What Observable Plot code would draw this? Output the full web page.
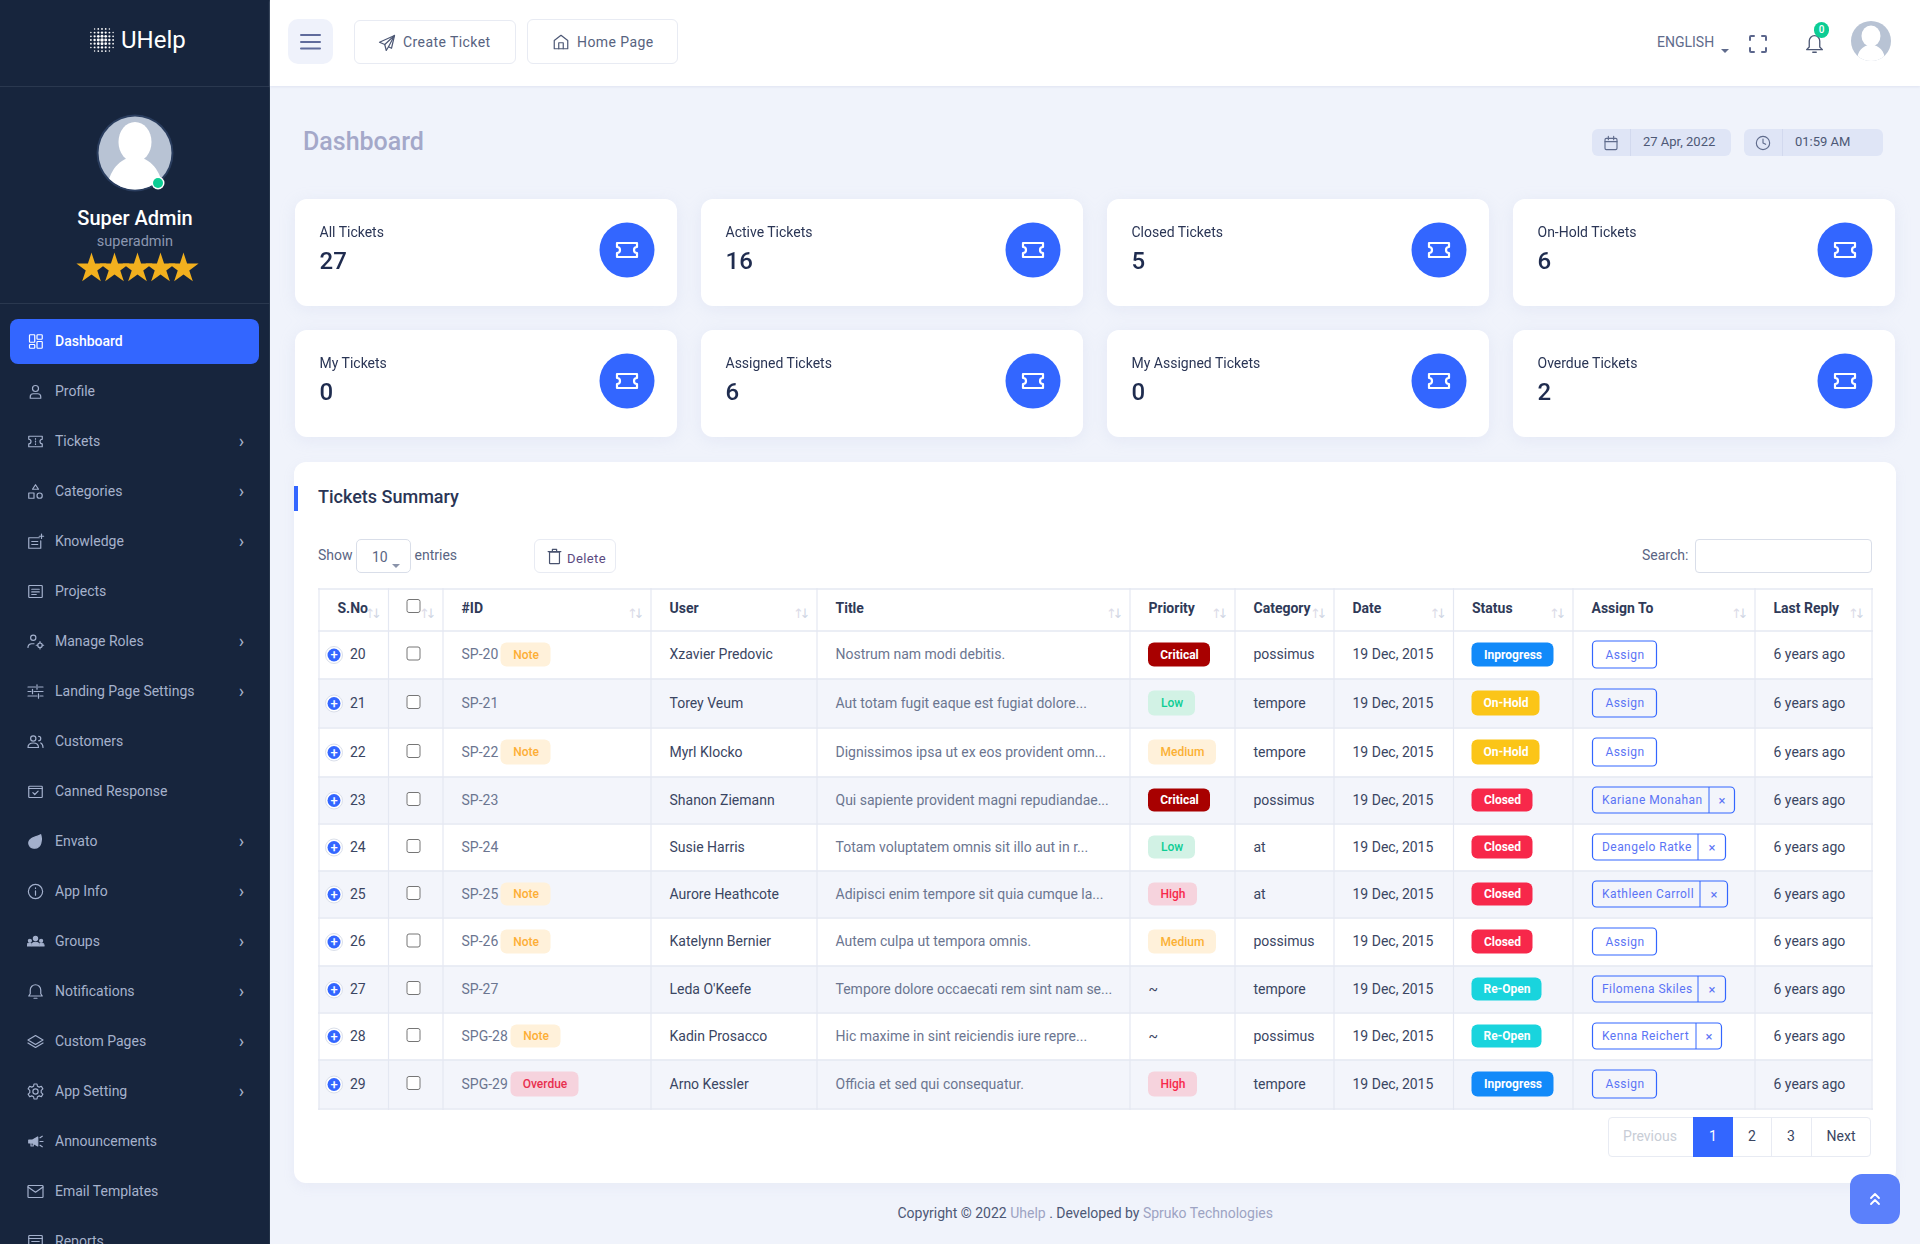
<!DOCTYPE html>
<html lang="en"><head><meta charset="utf-8"><title>UHelp Dashboard</title>
<script src="https://cdn.jsdelivr.net/npm/d3@7"></script>
<script src="https://cdn.jsdelivr.net/npm/@observablehq/plot@0.6"></script>
<style>
html,body{margin:0;padding:0;width:1920px;height:1244px;overflow:hidden;background:#f0f3fb;font-family:Roboto,sans-serif;color:#4d5875}
#page{position:relative;width:1920px;height:1244px;overflow:hidden}
.a{position:absolute;box-sizing:border-box;white-space:nowrap}
.plot{position:absolute}
.plot svg{display:block;overflow:visible}
.ls text{letter-spacing:.45px}
.shadow{filter:drop-shadow(0 3px 8px rgba(170,180,215,.16))}
</style></head><body><div id="page"></div>
<script>
/* ---------- DATA ---------- */
const menuItems=["Dashboard","Profile","Tickets","Categories","Knowledge","Projects","Manage Roles","Landing Page Settings","Customers","Canned Response","Envato","App Info","Groups","Notifications","Custom Pages","App Setting","Announcements","Email Templates","Reports"];
const menuWithChevron=["Tickets","Categories","Knowledge","Manage Roles","Landing Page Settings","Envato","App Info","Groups","Notifications","Custom Pages","App Setting"];
const statLabels=["All Tickets","Active Tickets","Closed Tickets","On-Hold Tickets","My Tickets","Assigned Tickets","My Assigned Tickets","Overdue Tickets"];
const statValues=[27,16,5,6,0,6,0,2];
const columns=["S.No","","#ID","User","Title","Priority","Category","Date","Status","Assign To","Last Reply"];
const serials=[20,21,22,23,24,25,26,27,28,29];
const ticketIds=["SP-20","SP-21","SP-22","SP-23","SP-24","SP-25","SP-26","SP-27","SPG-28","SPG-29"];
const flags=["Note","","Note","","","Note","Note","","Note","Overdue"];
const users=["Xzavier Predovic","Torey Veum","Myrl Klocko","Shanon Ziemann","Susie Harris","Aurore Heathcote","Katelynn Bernier","Leda O'Keefe","Kadin Prosacco","Arno Kessler"];
const titles=["Nostrum nam modi debitis.","Aut totam fugit eaque est fugiat dolore...","Dignissimos ipsa ut ex eos provident omn...","Qui sapiente provident magni repudiandae...","Totam voluptatem omnis sit illo aut in r...","Adipisci enim tempore sit quia cumque la...","Autem culpa ut tempora omnis.","Tempore dolore occaecati rem sint nam se...","Hic maxime in sint reiciendis iure repre...","Officia et sed qui consequatur."];
const priorities=["Critical","Low","Medium","Critical","Low","High","Medium","~","~","High"];
const categories=["possimus","tempore","tempore","possimus","at","at","possimus","tempore","possimus","tempore"];
const dates=Array(10).fill("19 Dec, 2015");
const statuses=["Inprogress","On-Hold","On-Hold","Closed","Closed","Closed","Closed","Re-Open","Re-Open","Inprogress"];
const assignees=["Assign","Assign","Assign","Kariane Monahan","Deangelo Ratke","Kathleen Carroll","Assign","Filomena Skiles","Kenna Reichert","Assign"];
const lastReplies=Array(10).fill("6 years ago");
const rating=[1,2,3,4,5];

/* ---------- STYLES ---------- */
const F="Roboto";
const priorityStyles=[{label:"Critical",bg:"#a80000",fg:"#fff",w:62,weight:700},{label:"Low",bg:"#d2f2e5",fg:"#0dcd94",w:47,weight:500},{label:"Medium",bg:"#fff1da",fg:"#fbb034",w:68,weight:500},{label:"High",bg:"#f6d3dd",fg:"#f7284a",w:49,weight:500}];
const statusStyles=[{label:"Inprogress",bg:"#128af9",w:82},{label:"On-Hold",bg:"#fbc518",w:68},{label:"Closed",bg:"#f7284a",w:61},{label:"Re-Open",bg:"#19d4dd",w:70}];
const flagStyles=[{label:"Note",bg:"#fff1da",fg:"#fdae35",w:50},{label:"Overdue",bg:"#f6d3dd",fg:"#e8304f",w:68}];
const assignStyles=[{label:"Assign",w:64},{label:"Kariane Monahan",w:142,div:116},{label:"Deangelo Ratke",w:133,div:105},{label:"Kathleen Carroll",w:135,div:107},{label:"Filomena Skiles",w:133,div:105},{label:"Kenna Reichert",w:129,div:103}];
const colEdges=[318,387.5,442,650,816,1129,1234,1333,1452.5,1572,1754,1871];
const rowEdges=[588,630,678,727,776,823,870,917,965,1012,1059,1108];

/* ---------- ICONS ---------- */
const I={
Dashboard:'<rect x="4" y="3" width="7" height="10" rx="1"/><rect x="14" y="3" width="7" height="6" rx="1"/><rect x="4" y="16" width="7" height="5" rx="1"/><rect x="14" y="12" width="7" height="9" rx="1"/>',
Profile:'<circle cx="12" cy="8" r="4"/><path d="M5 21v-2a4 4 0 0 1 4-4h6a4 4 0 0 1 4 4v2z"/>',
Tickets:'<path d="M3 5h18v4a3 3 0 0 0 0 6v4H3v-4a3 3 0 0 0 0-6z"/><path d="M12 8v1M12 11.5v1M12 15v1"/>',
Categories:'<path d="M12 3l4 6H8z"/><rect x="3" y="14" width="7" height="7"/><circle cx="17.5" cy="17.5" r="3.5"/>',
Knowledge:'<path d="M17 7H3v14h16V11"/><path d="M7 12h8M7 16h8M20 2v6M17 5h6"/>',
Projects:'<rect x="3" y="4" width="18" height="16" rx="1"/><path d="M7 9h10M7 12.5h10M7 16h6"/>',
"Manage Roles":'<circle cx="9" cy="7" r="3.5"/><path d="M2 20v-1a5 5 0 0 1 5-4h3"/><circle cx="18" cy="17" r="3"/><path d="M18 12v2M18 20v2M13 17h2M21 17h2"/>',
"Landing Page Settings":'<path d="M2 6h10M16 6h6M2 12h4M10 12h12M2 18h12M18 18h4M14 3v6M8 9v6M16 15v6"/>',
Customers:'<circle cx="9" cy="8" r="3.5"/><path d="M2 20c0-4 3-6 7-6s7 2 7 6z"/><path d="M16 5a3 3 0 0 1 0 6M19 14c2 1 3 3 3 6"/>',
"Canned Response":'<rect x="3" y="5" width="18" height="15" rx="1"/><path d="M3 8h18M8.500 13.500l2.500 2.500 4.500-4.500"/>',
Envato:'<path fill="#a3b0cc" d="M19 3c2 6 1 18-8 18-5 0-8-3-8-7 0-5 5-7 8-8 3-.7 6-1.500 8-3z"/>',
"App Info":'<circle cx="12" cy="12" r="9.500"/><path d="M12 11v6M12 7v1"/>',
Groups:'<g fill="#a3b0cc"><circle cx="12" cy="8" r="2.800"/><path d="M7 18c0-3 2-5 5-5s5 2 5 5z"/><circle cx="4.500" cy="11" r="2"/><path d="M0 18c0-2 2-4 4.500-4S6 16 6 18z"/><circle cx="19.500" cy="11" r="2"/><path d="M24 18c0-2-2-4-4.500-4S18 16 18 18z"/></g>',
Notifications:'<path d="M12 3a7 7 0 0 0-7 7v5l-2 3h18l-2-3v-5a7 7 0 0 0-7-7z"/><path d="M10 21h4"/>',
"Custom Pages":'<path d="M12 4l10 6-10 6-10-6z"/><path d="M2 14l10 6 10-6"/>',
"App Setting":'<circle cx="12" cy="12" r="3.500"/><path d="M10 2h4l.6 3 2.400 1.200 2.800-1.200 2 3.500-2.200 2v3l2.200 2-2 3.500-2.800-1.200-2.400 1.200-.6 3h-4l-.6-3-2.400-1.200-2.800 1.200-2-3.500 2.200-2v-3l-2.200-2 2-3.500 2.800 1.200 2.400-1.200z"/>',
Announcements:'<path d="M3 10h5l7-4v12l-7-4H3z" fill="#a3b0cc"/><path d="M6 14v4h3v-3M18 12h4M18 7l3-2M18 17l3 2"/>',
"Email Templates":'<rect x="2" y="4" width="20" height="16" rx="1"/><path d="M2 6l10 7 10-7"/>',
Reports:'<rect x="3" y="4" width="18" height="17" rx="1"/><path d="M3 8h18M7 12h10M7 16h10"/>'
};
const ticketPath='<path d="M2 5h20v4a3 3 0 0 0 0 6v4H2v-4a3 3 0 0 0 0-6z"/>';
const svgStr=(inner,color,sw=1.6)=>`<svg xmlns="http://www.w3.org/2000/svg" viewBox="0 0 24 24" fill="none" stroke="${color}" stroke-width="${sw}" stroke-linecap="round" stroke-linejoin="round">${inner}</svg>`;
const uri=(inner,color,sw)=>"data:image/svg+xml,"+encodeURIComponent(svgStr(inner,color,sw));

/* ---------- HELPERS ---------- */
const page=document.getElementById("page");
function box(l,t,w,h,css="",html=""){const d=document.createElement("div");d.className="a";d.style.cssText=`left:${l}px;top:${t}px;${w!=null?`width:${w}px;`:""}${h!=null?`height:${h}px;`:""}${css}`;d.innerHTML=html;page.appendChild(d);return d}
function label(l,cy,txt,css=""){return box(l,cy-12,null,24,`line-height:24px;${css}`,txt)}
function mount(plot,l,t,cls=""){const d=document.createElement("div");d.className="plot "+cls;d.style.left=l+"px";d.style.top=t+"px";d.appendChild(plot);page.appendChild(d)}
function icon(l,t,s,inner,color,sw){box(l,t,s,s,"",svgStr(inner,color,sw))}
const base={margin:0,style:{background:"transparent",fontFamily:F,overflow:"visible"}};

/* ---------- PAGE CHROME ---------- */
box(0,0,270,1244,"background:#17253d;border-right:1px solid #253449");
box(0,86,270,1,"background:#2a384f");
box(0,303,270,1,"background:#2a384f");
box(270,0,1650,86,"background:#fff;box-shadow:0 1px 2px rgba(200,208,230,.4)");
/* logo */
{let s="";for(let i=-3;i<=3;i++)for(let j=-3;j<=3;j++){const d=Math.hypot(i,j);if(d>3.7)continue;s+=`<circle cx="${14+i*3.7}" cy="${14+j*3.7}" r="${1.75-d*.28}" fill="#fff"/>`}
box(88,26,28,28,"",`<svg width="28" height="28" viewBox="0 0 28 28">${s}</svg>`)}
label(121,40,"UHelp","color:#fff;font-size:24px");
/* avatar */
box(95,113,80,80,"",`<svg width="80" height="80" viewBox="0 0 80 80"><defs><clipPath id="c1"><circle cx="40" cy="40" r="36.500"/></clipPath></defs><circle cx="40" cy="40" r="38.500" fill="#2a3d5e"/><circle cx="40" cy="40" r="36.500" fill="#b8c3d4"/><g clip-path="url(#c1)" fill="#fff"><ellipse cx="40" cy="29" rx="16.500" ry="20"/><path d="M12 80c0-20 12-36 28-36s28 16 28 36z"/></g><circle cx="63" cy="70" r="6.500" fill="#fff"/><circle cx="63" cy="70" r="5" fill="#0dcd94"/></svg>`);
box(0,206,270,24,"text-align:center;color:#fff;font-size:20px;font-weight:500;line-height:24px;","Super Admin");
box(0,230,270,24,"text-align:center;color:#8c97b0;font-size:14.500px;line-height:24px;","superadmin");
box(10,319,249,45,"background:#3366ff;border-radius:8px");
/* header */
box(288,19,45,45,"background:#eff2fb;border-radius:10px",`<svg width="45" height="45"><path d="M13 16h19M13 23h19M13 29.500h19" stroke="#5f6b9c" stroke-width="2" stroke-linecap="round"/></svg>`);
const btn="background:#fff;border:1px solid #e8ebf3;border-radius:6px";
box(354,20,162,44,btn);box(527,19,151,45,btn);
const hdrT="color:#576380;font-size:14px;letter-spacing:.42px";
label(403,42,"Create Ticket",hdrT);label(577,42,"Home Page",hdrT);
icon(378,34,18,'<path d="M22 2L2 11l7 3 2 8 3-5 4 2z"/><path d="M22 2L9 14M22 2l-8 15"/>',"#4d5875");
icon(552,33,18,'<path d="M3 10l9-7 9 7v11H3z"/><path d="M9 21v-8h6v8"/>',"#4d5875");
label(1657,42,"ENGLISH","color:#5f6b8c;font-size:14px");
box(1721,39,8,6,"",`<svg width="8" height="6"><path d="M0 1h8L4 5z" fill="#5f6b8c"/></svg>`);
box(1749,35,18,18,"",`<svg width="18" height="18" fill="none" stroke="#5b668c" stroke-width="2" stroke-linecap="round"><path d="M1 5V2a1 1 0 0 1 1-1h3M13 1h3a1 1 0 0 1 1 1v3M17 13v3a1 1 0 0 1-1 1h-3M5 17H2a1 1 0 0 1-1-1v-3"/></svg>`);
icon(1804,33,21,'<path d="M12 3a6 6 0 0 0-6 6v7l-3 3h18l-3-3V9a6 6 0 0 0-6-6z"/><path d="M10 22h4"/>',"#4d5875",1.5);
box(1814,22,15,16,"background:#0dcd94;border-radius:8px;color:#fff;font-size:10px;font-weight:500;text-align:center;line-height:16px","0");
box(1851,21,40,40,"",`<svg width="40" height="40"><defs><clipPath id="c2"><circle cx="20" cy="20" r="20"/></clipPath></defs><circle cx="20" cy="20" r="20" fill="#b8c3d4"/><g clip-path="url(#c2)" fill="#fff"><ellipse cx="20" cy="15" rx="9.500" ry="10.500"/><path d="M6 40c0-10 6-16 14-16s14 6 14 16z"/></g></svg>`);
/* page title */
label(303,142,"Dashboard","color:#a4a8c9;font-size:25px;font-weight:500;height:30px;line-height:24px");
const chip="background:#dfe5f6;border-radius:6px";
box(1592,129,139,27,chip);box(1744,129,139,27,chip);
box(1630,129,1,27,"background:#d2d9ee");box(1782,129,1,27,"background:#d2d9ee");
label(1643,142,"27 Apr, 2022","color:#4d5875;font-size:13px");label(1795,142,"01:59 AM","color:#4d5875;font-size:13px");
icon(1603,135,16,'<rect x="3" y="5" width="18" height="17" rx="2"/><path d="M3 10h18M8 2v5M16 2v5"/>',"#5f6b8c",1.700);
icon(1755,135,16,'<circle cx="12" cy="12" r="10"/><path d="M12 6v6l4 2"/>',"#5f6b8c",1.700);
/* table card */
box(294,462,1602,721,"background:#fff;border-radius:12px;box-shadow:0 4px 12px rgba(170,180,215,.12)");
box(294,486,4,25,"background:#3366ff");
label(318,497,"Tickets Summary","color:#2a3555;font-size:18px;font-weight:500");
label(318,555,"Show","color:#5a6583;font-size:14px");
box(356,539,55,34,"background:#fff;border:1px solid #d9dee9;border-radius:5px");
label(372,557,"10","color:#5a6583;font-size:14px");
box(392,554,8,6,"",`<svg width="8" height="6"><path d="M0 1h8L4 5z" fill="#8a93aa"/></svg>`);
label(414.500,555,"entries","color:#5a6583;font-size:14px");
box(534,539,82,34,"background:#fff;border:1px solid #e8ebf3;border-radius:6px");
icon(546,548,17,'<path d="M5 6h14v15a1 1 0 0 1-1 1H6a1 1 0 0 1-1-1zM3 5h18M9 5V2h6v3"/>',"#49536f",1.700);
label(567,559,"Delete","color:#5b4a7f;font-size:13px;letter-spacing:.4px");
label(1642,555,"Search:","color:#5a6583;font-size:14px");
box(1695,539,177,34,"background:#fff;border:1px solid #d9dee9;border-radius:4px");
/* pagination */
box(1608,1117,263,40,"background:#fff;border:1px solid #e8ebf3;border-radius:4px");
box(1693,1117,40,40,"background:#3366ff");
box(1771,1117,1,40,"background:#e8ebf3");box(1811,1117,1,40,"background:#e8ebf3");
const pg=(c,t,col)=>box(c-30,1124,60,24,`text-align:center;line-height:24px;font-size:14px;color:${col}`,t);
pg(1650,"Previous","#c8cdd6");pg(1713,"1","#fff");pg(1752,"2","#3a4562");pg(1791,"3","#3a4562");pg(1841,"Next","#3a4562");
/* footer */
label(897.500,1213,'Copyright © 2022 <span style="color:#9da3c3">Uhelp</span> . Developed by <span style="color:#9da3c3">Spruko Technologies</span>',"color:#4d5875;font-size:14px");
box(1850,1174,50,50,"background:#5b80fb;border-radius:12px",`<svg width="50" height="50" fill="none" stroke="#fff" stroke-width="1.800" stroke-linecap="round" stroke-linejoin="round"><path d="M21 24l4-4 4 4M21 30l4-4 4 4"/></svg>`);

/* ---------- SIDEBAR: stars + menu ---------- */
mount(Plot.plot({...base,width:110,height:24,x:{type:"point",domain:rating,range:[8,102],padding:0,axis:null},y:{axis:null},marks:[
  Plot.dot(rating,{x:d=>d,frameAnchor:"middle",symbol:"star",r:9.5,fill:"#f2b01e"})
]}),82,256);

const menuY={type:"point",domain:menuItems,range:[341,1241],padding:0,axis:null};
mount(Plot.plot({...base,width:270,height:1244,y:menuY,marks:[
  Plot.image(menuItems,{y:d=>d,frameAnchor:"left",dx:35,width:18,height:18,src:d=>uri(I[d],d==="Dashboard"?"#fff":"#a3b0cc")}),
  Plot.text(menuItems,{y:d=>d,frameAnchor:"left",dx:d=>0,textAnchor:"start",text:d=>d,fontSize:14,fontFamily:F,fill:"#a6b2cc",filter:d=>d!=="Dashboard",dx:54.5}),
  Plot.text(["Dashboard"],{y:d=>d,frameAnchor:"left",textAnchor:"start",text:d=>d,fontSize:14,fontWeight:500,fontFamily:F,fill:"#fff",dx:54.5}),
  Plot.text(menuWithChevron,{y:d=>d,frameAnchor:"left",textAnchor:"middle",text:()=>"›",fontSize:18,fontFamily:F,fill:"#a6b2cc",dx:241})
]}),0,0);

/* ---------- STAT CARDS ---------- */
const cards=statLabels.map((l,i)=>({label:l,value:statValues[i],col:i%4,row:Math.floor(i/4)}));
const ticketWhite=uri(ticketPath,"#fff",2.2);
mount(Plot.plot({...base,width:1602,height:239,
  x:{type:"band",domain:[0,1,2,3],paddingInner:24/406,paddingOuter:0,axis:null},
  y:{type:"band",domain:[0,1],paddingInner:24/132,paddingOuter:0,axis:null},
  marks:[
    Plot.cell(cards,{x:"col",y:"row",fill:"#fff",rx:12}),
    Plot.text(cards,{x:"col",y:"row",text:"label",textAnchor:"start",dx:-167,dy:-20,fontSize:14,fontFamily:F,fill:"#2a3555"}),
    Plot.text(cards,{x:"col",y:"row",text:d=>String(d.value),textAnchor:"start",dx:-167,dy:8,fontSize:24,fontWeight:500,fontFamily:F,fill:"#1f2c4f"}),
    Plot.dot(cards,{x:"col",y:"row",r:27.5,fill:"#3366ff",dx:140.5,dy:-3}),
    Plot.image(cards,{x:"col",y:"row",src:ticketWhite,width:24,height:24,dx:140.5,dy:-3})
  ]}),294,199,"shadow");

/* ---------- TABLE ---------- */
const rows=serials.map((s,i)=>({row:i+1,sno:String(s),id:ticketIds[i],flag:flags[i],user:users[i],title:titles[i],priority:priorities[i],category:categories[i],date:dates[i],status:statuses[i],assign:assignees[i],reply:lastReplies[i]}));
const colIdx=d3.range(colEdges.length), rowIdx=d3.range(rowEdges.length);
const colW=i=>colEdges[i+1]-colEdges[i];
const PAD=18.5, CLine="#e4e8f2";
const C={sno:0,check:1,id:2,user:3,title:4,priority:5,category:6,date:7,status:8,assign:9,reply:10};
const cellText=(key,col,fill,opts={})=>Plot.text(rows,{x:()=>col,y:d=>d.row+.5,text:key,dx:PAD,textAnchor:"start",fontSize:14,fontFamily:F,fill,...opts});
const pill=(data,col,left,w,inset,bg,opts={})=>Plot.rect(data,{x1:()=>col,x2:()=>col+1,y1:d=>d.row,y2:d=>d.row+1,insetLeft:left,insetRight:colW(col)-left-w,insetTop:inset,insetBottom:inset,fill:bg,rx:6,...opts});
const pillText=(data,col,left,w,txt,fg,weight,extra={})=>Plot.text(data,{x:()=>col,y:d=>d.row+.5,text:()=>txt,dx:left+w/2,textAnchor:"middle",fontSize:12,fontWeight:weight,fontFamily:F,fill:fg,...extra});

const tableMarks=[
  Plot.rect(rows.filter(r=>r.row%2===0),{x1:()=>0,x2:()=>11,y1:d=>d.row,y2:d=>d.row+1,fill:"#f3f5fb"}),
  Plot.ruleY(rowIdx,{y:d=>d,stroke:CLine,strokeWidth:1.3}),
  Plot.ruleX(colIdx,{x:d=>d,stroke:CLine,strokeWidth:1.2}),
  /* header */
  Plot.text(columns.map((c,i)=>({c,i})).filter(d=>d.c),{x:d=>d.i,y:()=>.5,text:"c",dx:PAD,textAnchor:"start",fontSize:14,fontWeight:700,fontFamily:F,fill:"#2f3a58",dy:-1}),
  Plot.text(colIdx.slice(0,-1),{x:d=>d+1,y:()=>.5,text:()=>"↑",dx:-18.5,dy:4,fontSize:13,fontFamily:"DejaVu Sans",fill:"#dcdce8"}),
  Plot.text(colIdx.slice(0,-1),{x:d=>d+1,y:()=>.5,text:()=>"↓",dx:-12,dy:4,fontSize:13,fontFamily:"DejaVu Sans",fill:"#d0d6e4"}),
  Plot.image([0],{x:()=>1,y:()=>.5,dx:25,dy:-4,width:15,height:15,src:"data:image/svg+xml,"+encodeURIComponent('<svg xmlns="http://www.w3.org/2000/svg" viewBox="0 0 15 15"><rect x="1" y="1" width="13" height="13" rx="2" fill="#fff" stroke="#767676"/></svg>')}),
  /* serial */
  Plot.dot(rows,{x:()=>0,y:d=>d.row+.5,dx:15,r:8.5,fill:"#fff",stroke:"#dadfea",strokeWidth:1}),
  Plot.dot(rows,{x:()=>0,y:d=>d.row+.5,dx:15,r:6.5,fill:"#3366ff"}),
  Plot.text(rows,{x:()=>0,y:d=>d.row+.5,dx:15,text:()=>"+",fontSize:13,fontWeight:500,fontFamily:F,fill:"#fff"}),
  cellText("sno",C.sno,"#3a4562",{dx:31}),
  /* checkbox */
  Plot.image(rows,{x:()=>C.check,y:d=>d.row+.5,dx:25,dy:-1.5,width:15,height:15,src:"data:image/svg+xml,"+encodeURIComponent('<svg xmlns="http://www.w3.org/2000/svg" viewBox="0 0 15 15"><rect x="1" y="1" width="13" height="13" rx="2" fill="#fff" stroke="#767676"/></svg>')}),
  /* plain cells */
  cellText("id",C.id,"#6b7590"),
  cellText("user",C.user,"#3a4562"),
  cellText("title",C.title,"#6b7590"),
  cellText("category",C.category,"#3a4562"),
  cellText("date",C.date,"#3a4562"),
  cellText("reply",C.reply,"#3a4562"),
  Plot.text(rows.filter(r=>r.priority==="~"),{x:()=>C.priority,y:d=>d.row+.5,text:"priority",dx:PAD,textAnchor:"start",fontSize:14,fontFamily:F,fill:"#3a4562"})
];
/* flags next to ids */
for(const s of flagStyles){for(const longId of [false,true]){
  const data=rows.filter(r=>r.flag===s.label&&(r.id.startsWith("SPG")===longId));
  const left=longId?68:58;
  if(!data.length)continue;
  tableMarks.push(pill(data,C.id,left,s.w,12,s.bg),pillText(data,C.id,left,s.w,s.label,s.fg,500));
}}
for(const s of priorityStyles){const data=rows.filter(r=>r.priority===s.label);
  tableMarks.push(pill(data,C.priority,PAD,s.w,12,s.bg),pillText(data,C.priority,PAD,s.w,s.label,s.fg,s.weight));}
for(const s of statusStyles){const data=rows.filter(r=>r.status===s.label);
  tableMarks.push(pill(data,C.status,PAD,s.w,12,s.bg),pillText(data,C.status,PAD,s.w,s.label,"#fff",700));}
for(const s of assignStyles){const data=rows.filter(r=>r.assign===s.label);
  tableMarks.push(pill(data,C.assign,20,s.w,10.5,"transparent",{stroke:"#3366ff",strokeWidth:1.2,rx:4}));
  if(s.div){
    tableMarks.push(
      Plot.ruleX(data,{x:()=>C.assign,dx:20+s.div,y1:d=>d.row,y2:d=>d.row+1,insetTop:10.5,insetBottom:10.5,stroke:"#3366ff",strokeWidth:1}),
      Plot.text(data,{x:()=>C.assign,y:d=>d.row+.5,text:"assign",dx:29,textAnchor:"start",fontSize:12,fontFamily:F,fill:"#5b74f5",className:"ls"}),
      Plot.text(data,{x:()=>C.assign,y:d=>d.row+.5,text:()=>"×",dx:20+(s.div+s.w)/2,textAnchor:"middle",fontSize:13,fontFamily:F,fill:"#5b74f5"})
    );
  }else tableMarks.push(pillText(data,C.assign,20,s.w,s.label,"#5b74f5",400,{className:"ls"}));
}
mount(Plot.plot({...base,width:1555,height:522,
  x:{type:"linear",domain:colIdx,range:colEdges.map(v=>v-318+.5),axis:null},
  y:{type:"linear",domain:rowIdx,range:rowEdges.map(v=>v-588+.5),axis:null},
  marks:tableMarks}),318,588);
</script></body></html>
